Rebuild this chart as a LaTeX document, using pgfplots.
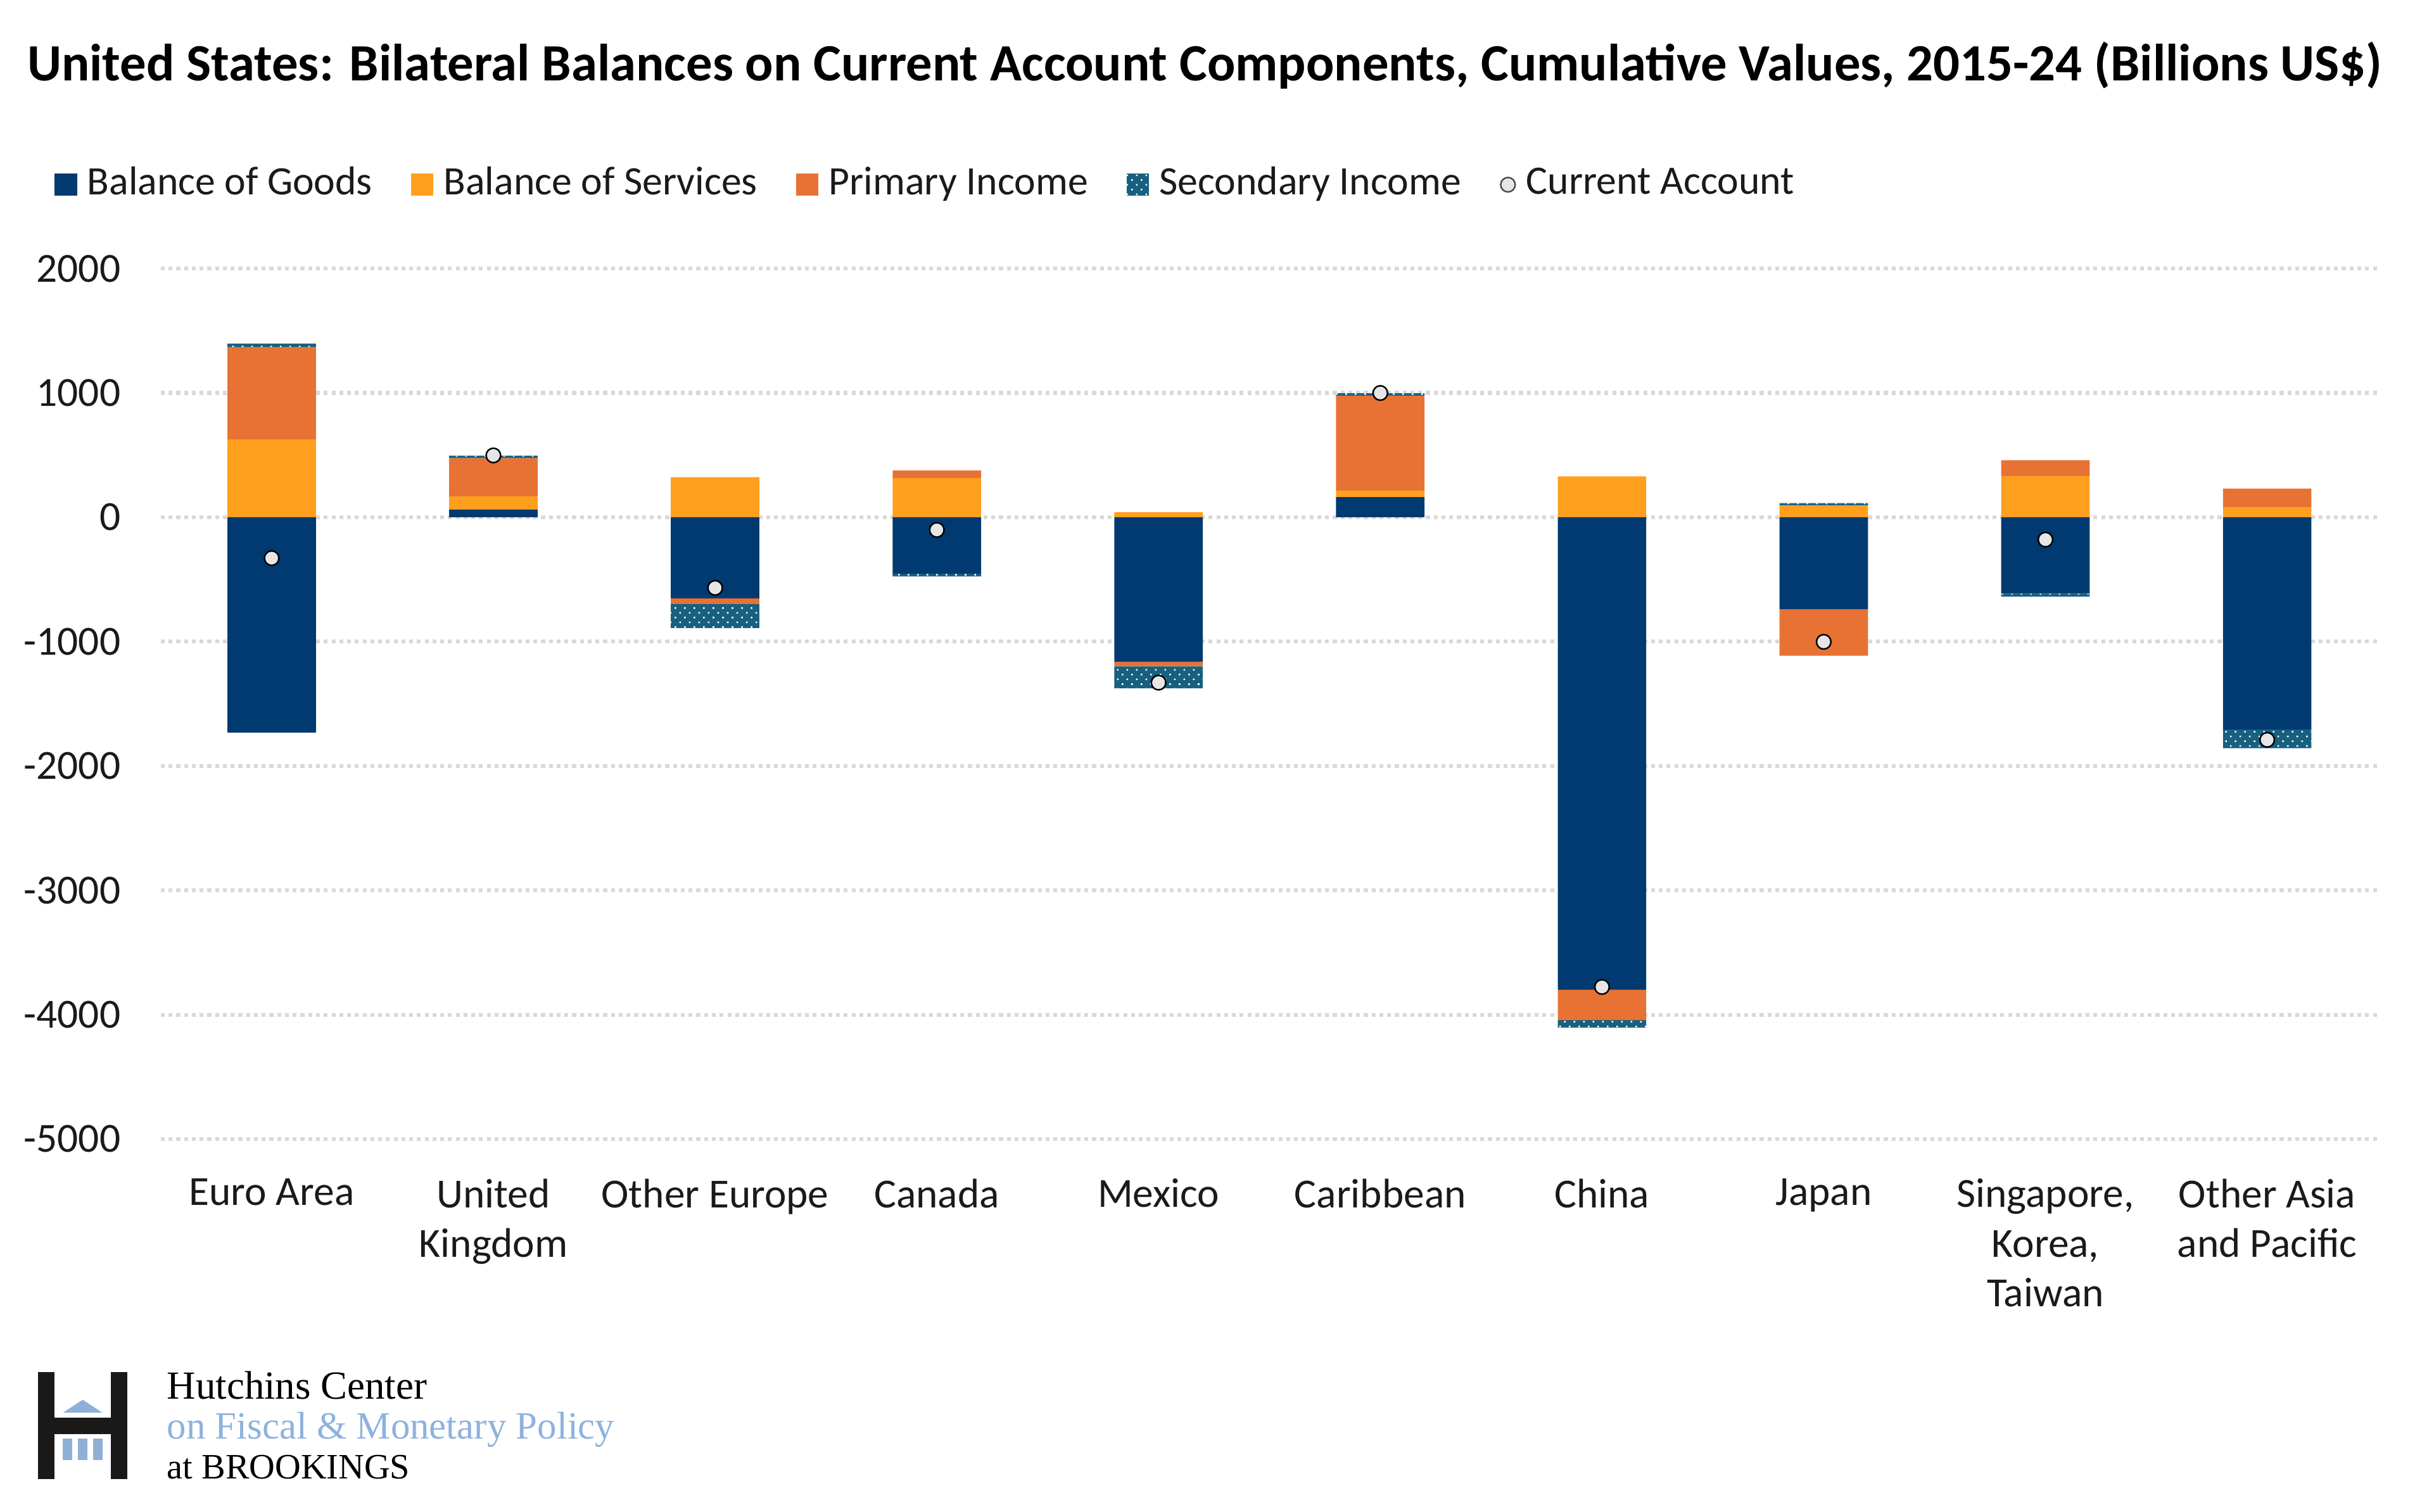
\documentclass[border=0pt]{standalone}
\usepackage{pgfplots}
\pgfplotsset{compat=1.18}
\usepackage{pgfplotstable}
\usetikzlibrary{patterns.meta}
\usepackage{fontspec}
\setmainfont{Carlito}
\newfontfamily\logofont{Liberation Serif}

\definecolor{goodsC}{HTML}{003A70}
\definecolor{servC}{HTML}{FF9F1E}
\definecolor{primC}{HTML}{E87234}
\definecolor{secC}{HTML}{17607F}
\definecolor{caC}{HTML}{E6E6E6}
\definecolor{gridC}{HTML}{D9D9D9}
\definecolor{logoBlue}{HTML}{8DB2DE}
\definecolor{iconBlue}{HTML}{8FAFD6}
\definecolor{txtC}{HTML}{1A1A1A}

% x = category index; gp..ip = positive parts, gn..in = negative parts, ca = current account
\pgfplotstableread{
x  gp   sp   pp   ip   gn     pn    in    ca
0  0    627  742  28   -1732  0     0     -329
1  62   106  307  20   0      0     0     497
2  0    322  0    0    -653   -45   -193  -568
3  0    315  61   0    -454   0     -22   -102
4  0    41   0    0    -1163  -36   -177  -1330
5  162  52   764  19   0      0     0     999
6  0    329  0    0    -3799  -245  -60   -3777
7  0    96   0    17   -740   -373  0     -1002
8  0    330  129  0    -613   0     -26   -180
9  0    82   148  0    -1705  0     -152  -1790
}\data

\pgfplotsset{
  base/.style={
    scale only axis, width=428.5pt, height=168.3pt,
    at={(0pt,0pt)}, anchor=south west,
    xmin=-0.5, xmax=9.5, ymin=-5000, ymax=2000,
    axis line style={draw=none}, tick style={draw=none},
  },
  secstyle/.style={fill=secC, draw=none,
    postaction={pattern={Dots[angle=45,distance=1.3pt,radius=0.22pt]}, pattern color=white}},
}

\begin{document}
\begin{tikzpicture}
\path (-31.08pt,-72pt) rectangle (439.32pt,220.2pt);

% positive stack + grid + ticks + legend
\begin{axis}[base, ybar stacked, bar width=17.1pt,
  ymajorgrids, grid style={gridC, line width=0.75pt, dash pattern=on 0.75pt off 0.75pt},
  ytick={-5000,-4000,...,2000}, scaled y ticks=false,
  /pgf/number format/1000 sep={}, /pgf/number format/assume math mode=true,
  yticklabel style={font=\fontsize{8}{9.6}\selectfont, text=txtC, inner sep=0pt, xshift=-7.6pt},
  xtick={0,...,9},
  xticklabels={Euro Area,{United\\Kingdom},Other Europe,Canada,Mexico,Caribbean,China,Japan,{Singapore,\\Korea,\\Taiwan},{Other Asia\\and Pacific}},
  xticklabel style={font=\fontsize{8}{9.6}\selectfont, text=txtC, align=center, inner sep=0pt, yshift=-7.5pt},
  legend image code/.code={\fill[#1] (0pt,-2.15pt) rectangle (4.3pt,2.15pt);},
  legend columns=5,
  legend style={at={(0,1)}, anchor=west, xshift=-20.7pt, yshift=16.2pt,
    draw=none, fill=none, inner sep=0pt, text=txtC,
    font=\fontsize{7.8}{9}\selectfont,
    /tikz/every even column/.append style={column sep=5.5pt}},
]
\addplot[fill=goodsC, draw=none] table[x=x, y=gp] {\data};
\addlegendentry{Balance of Goods}
\addplot[fill=servC, draw=none] table[x=x, y=sp] {\data};
\addlegendentry{Balance of Services}
\addplot[fill=primC, draw=none] table[x=x, y=pp] {\data};
\addlegendentry{Primary Income}
\addplot[secstyle] table[x=x, y=ip] {\data};
\addlegendentry{Secondary Income}
\addlegendimage{legend image code/.code={\draw[fill=caC, draw=black!70, line width=0.3pt] (2.2pt,0pt) circle (1.4pt);}}
\addlegendentry{Current Account}
\end{axis}

% negative stack
\begin{axis}[base, hide axis, ybar stacked, bar width=17.1pt]
\addplot[fill=goodsC, draw=none] table[x=x, y=gn] {\data};
\addplot[fill=primC, draw=none] table[x=x, y=pn] {\data};
\addplot[secstyle] table[x=x, y=in] {\data};
\end{axis}

% current account markers
\begin{axis}[base, hide axis]
\addplot[only marks, mark=*, mark size=1.4pt, mark options={fill=caC, draw=black, line width=0.3pt}] table[x=x, y=ca] {\data};
\end{axis}

% title
\node[anchor=west, inner sep=0pt, font=\fontsize{10.13}{11}\selectfont\bfseries] at (-26pt,207.6pt)
  {United States: Bilateral Balances on Current Account Components, Cumulative Values, 2015-24 (Billions US\$)};

% logo
\fill[black!90] (-23.7pt,-45pt) rectangle (-20.6pt,-65.7pt);
\fill[black!90] (-9.6pt,-45pt) rectangle (-6.5pt,-65.7pt);
\fill[black!90] (-20.6pt,-53.85pt) rectangle (-9.6pt,-57pt);
\fill[iconBlue] (-18.9pt,-52.9pt) -- (-11.3pt,-52.9pt) -- (-15.1pt,-50.4pt) -- cycle;
\fill[iconBlue] (-18.93pt,-57.9pt) rectangle (-17.13pt,-62.1pt);
\fill[iconBlue] (-15.99pt,-57.9pt) rectangle (-14.19pt,-62.1pt);
\fill[iconBlue] (-13.05pt,-57.9pt) rectangle (-11.25pt,-62.1pt);
\node[anchor=base west, inner sep=0pt, font=\logofont\fontsize{7.7}{8}\selectfont] at (1.0pt,-50.3pt) {Hutchins Center};
\node[anchor=base west, inner sep=0pt, font=\logofont\fontsize{7.45}{8}\selectfont, text=logoBlue] at (1.0pt,-57.9pt) {on Fiscal \& Monetary Policy};
\node[anchor=base west, inner sep=0pt, font=\logofont\fontsize{6.9}{8}\selectfont] at (1.0pt,-65.7pt) {at BROOKINGS};
\end{tikzpicture}
\end{document}
